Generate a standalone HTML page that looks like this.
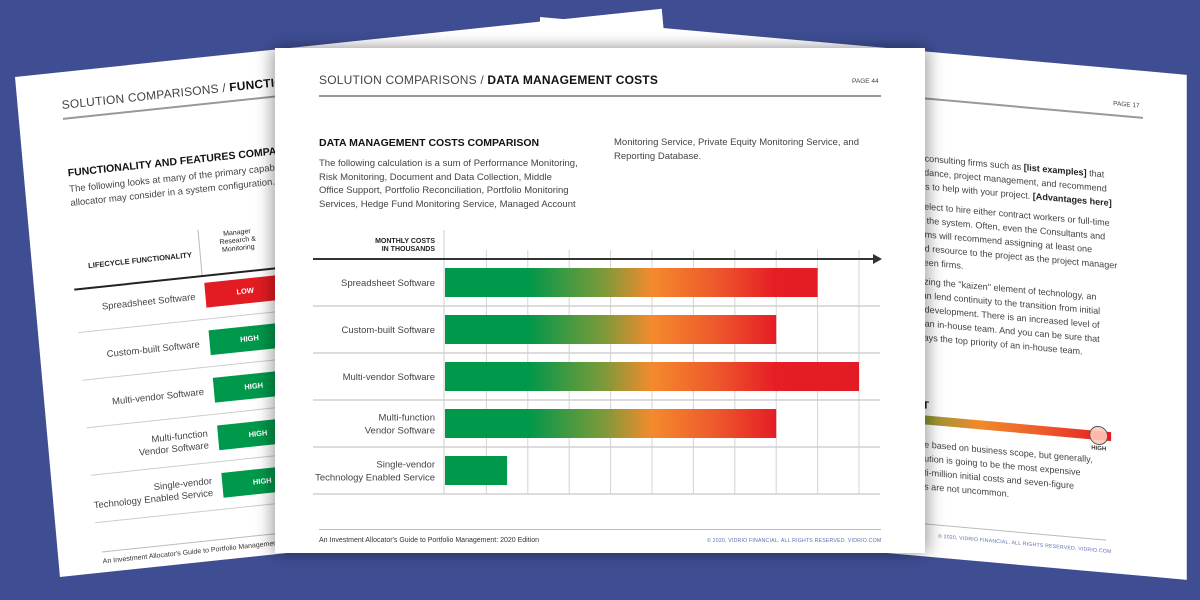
<!DOCTYPE html>
<html><head><meta charset="utf-8">
<style>
*{margin:0;padding:0;box-sizing:border-box}
body{width:1200px;height:600px;overflow:hidden;background:#3f4e93;font-family:"Liberation Sans",sans-serif;color:#333;position:relative}
.page{position:absolute;width:650px;height:505px;background:#fff;transform-origin:0 0;overflow:hidden}
.t{position:absolute;white-space:nowrap}
.hdr{font-size:12px;color:#444;letter-spacing:0.2px}
.hdr b{color:#111}
.pg{font-size:6.5px;color:#444}
.rule{position:absolute;height:1.5px;background:#999}
.body{font-size:9.5px;line-height:13.5px;color:#444}
.rl{position:absolute;white-space:nowrap;font-size:9.1px;color:#444;left:379px}
.rl b{color:#222}
.title{font-size:10.5px;font-weight:bold;color:#111}
.foot{font-size:7px;color:#333}
.copy{font-size:5.2px;color:#5a6fb0;letter-spacing:0.2px}
.cell{position:absolute;width:80px;height:25px;color:#fff;font-size:7.5px;font-weight:bold;display:flex;align-items:center;justify-content:center}
.lbl{position:absolute;font-size:9.5px;color:#444;text-align:right;line-height:12px}
</style></head><body>

<!-- right page -->
<div class="page" style="transform:matrix(0.995,0.089,0,1,540,17);">
  <div class="t pg" style="left:576px;top:32px">PAGE 17</div>
  <div class="rule" style="left:44px;top:46px;width:562px"></div>
  <div>
    <div class="rl" style="top:102px">o consulting firms such as <b>[list examples]</b> that</div>
    <div class="rl" style="top:116px">uidance, project management, and recommend</div>
    <div class="rl" style="top:130px">ors to help with your project. <b>[Advantages here]</b></div>
  </div>
  <div>
    <div class="rl" style="top:150px">s elect to hire either contract workers or full-time</div>
    <div class="rl" style="top:164px">ld the system. Often, even the Consultants and</div>
    <div class="rl" style="top:178px">firms will recommend assigning at least one</div>
    <div class="rl" style="top:192px">ted resource to the project as the project manager</div>
    <div class="rl" style="top:206px">ween firms.</div>
  </div>
  <div>
    <div class="rl" style="top:225px">nizing the "kaizen" element of technology, an</div>
    <div class="rl" style="top:239px">can lend continuity to the transition from initial</div>
    <div class="rl" style="top:253px">g development. There is an increased level of</div>
    <div class="rl" style="top:267px">o an in-house team. And you can be sure that</div>
    <div class="rl" style="top:281px">ways the top priority of an in-house team.</div>
  </div>
  <div class="t title" style="left:296px;top:348px;width:95px;text-align:right">COST</div>
  <div style="position:absolute;left:44px;top:364px;width:530px;height:9px;background:linear-gradient(90deg,#00984a 0%,#00984a 45%,#7a9a38 63%,#f08a2a 75%,#ee5a2c 87%,#e31b23 100%)"></div>
  <div style="position:absolute;left:552px;top:359px;width:19px;height:19px;border:1.5px solid #555;border-radius:50%;background:rgba(255,200,185,0.9)"></div>
  <div class="t" style="left:554px;top:379px;font-size:6px;font-weight:bold;color:#333">HIGH</div>
  <div>
    <div class="rl" style="top:388px">ble based on business scope, but generally,</div>
    <div class="rl" style="top:402px">olution is going to be the most expensive</div>
    <div class="rl" style="top:416px">ulti-million initial costs and seven-figure</div>
    <div class="rl" style="top:430px">sts are not uncommon.</div>
  </div>
  <div class="rule" style="left:44px;top:472px;width:525px;height:1px;background:#bbb"></div>
  <div class="t copy" style="left:400px;top:481px">© 2020, VIDRIO FINANCIAL. ALL RIGHTS RESERVED. VIDRIO.COM</div>
</div>

<!-- left page -->
<div class="page" style="transform:matrix(0.995,-0.105,0.089,0.99,15,77);">
  <div class="t hdr" style="left:44px;top:26px">SOLUTION COMPARISONS / <b>FUNCTIONALITY AND FEATURES</b></div>
  <div class="rule" style="left:44px;top:46px;width:562px"></div>
  <div class="t title" style="left:44px;top:96px">FUNCTIONALITY AND FEATURES COMPARISON</div>
  <div class="t body" style="left:44px;top:112px">The following looks at many of the primary capabilities an<br>allocator may consider in a system configuration.</div>
  <div class="t" style="left:56px;top:192px;font-size:7.5px;font-weight:bold;color:#222">LIFECYCLE FUNCTIONALITY</div>
  <div class="t" style="left:172px;top:176px;font-size:7px;line-height:8px;text-align:center;width:70px;color:#222">Manager<br>Research &amp;<br>Monitoring</div>
  <div style="position:absolute;left:168px;top:172px;width:1px;height:48px;background:#bbb"></div>
  <div class="rule" style="left:40px;top:218px;width:600px;height:2px;background:#222"></div>
  <div class="lbl" style="left:20px;top:234px;width:140px">Spreadsheet Software</div>
  <div class="cell" style="left:170px;top:226px;background:#e31b23">LOW</div>
  <div class="rule" style="left:40px;top:262px;width:600px;height:1px;background:#ccc"></div>
  <div class="lbl" style="left:20px;top:282px;width:140px">Custom-built Software</div>
  <div class="cell" style="left:170px;top:274px;background:#00984a">HIGH</div>
  <div class="rule" style="left:40px;top:310px;width:600px;height:1px;background:#ccc"></div>
  <div class="lbl" style="left:20px;top:330px;width:140px">Multi-vendor Software</div>
  <div class="cell" style="left:170px;top:322px;background:#00984a">HIGH</div>
  <div class="rule" style="left:40px;top:358px;width:600px;height:1px;background:#ccc"></div>
  <div class="lbl" style="left:20px;top:372px;width:140px">Multi-function<br>Vendor Software</div>
  <div class="cell" style="left:170px;top:370px;background:#00984a">HIGH</div>
  <div class="rule" style="left:40px;top:406px;width:600px;height:1px;background:#ccc"></div>
  <div class="lbl" style="left:0px;top:420px;width:160px">Single-vendor<br>Technology Enabled Service</div>
  <div class="cell" style="left:170px;top:418px;background:#00984a">HIGH</div>
  <div class="rule" style="left:40px;top:454px;width:600px;height:1px;background:#ccc"></div>
  <div class="rule" style="left:44px;top:484px;width:560px;height:1px;background:#bbb"></div>
  <div class="t foot" style="left:44px;top:491px">An Investment Allocator's Guide to Portfolio Management: 2020 Edition</div>
</div>

<!-- center page -->
<div class="page" style="left:275px;top:48px;box-shadow:-6px 0 14px rgba(0,0,0,0.25),6px 0 14px rgba(0,0,0,0.25)">
  <div class="t hdr" style="left:44px;top:25px">SOLUTION COMPARISONS / <b>DATA MANAGEMENT COSTS</b></div>
  <div class="t pg" style="left:577px;top:30px">PAGE 44</div>
  <div class="rule" style="left:44px;top:47px;width:562px"></div>
  <div class="t title" style="left:44px;top:89px">DATA MANAGEMENT COSTS COMPARISON</div>
  <div class="t body" style="left:44px;top:109px">The following calculation is a sum of Performance Monitoring,<br>Risk Monitoring, Document and Data Collection, Middle<br>Office Support, Portfolio Reconciliation, Portfolio Monitoring<br>Services, Hedge Fund Monitoring Service, Managed Account</div>
  <div class="t body" style="left:339px;top:88px">Monitoring Service, Private Equity Monitoring Service, and<br>Reporting Database.</div>
  <svg id="chart" width="650" height="505" style="position:absolute;left:0;top:0">
    <defs>
      <linearGradient id="cg" gradientUnits="userSpaceOnUse" x1="170" y1="0" x2="584" y2="0">
        <stop offset="0" stop-color="#00984a"/>
        <stop offset="0.2" stop-color="#00984a"/>
        <stop offset="0.38" stop-color="#7a9a3a"/>
        <stop offset="0.5" stop-color="#f48a2c"/>
        <stop offset="0.65" stop-color="#ee5a2c"/>
        <stop offset="0.8" stop-color="#e51d25"/>
        <stop offset="1" stop-color="#e31b23"/>
      </linearGradient>
    </defs>
  </svg>
  <div class="rule" style="left:44px;top:481px;width:562px;height:1px;background:#bbb"></div>
  <div class="t foot" style="left:44px;top:489px">An Investment Allocator's Guide to Portfolio Management: 2020 Edition</div>
  <div class="t copy" style="left:432px;top:490px">© 2020, VIDRIO FINANCIAL. ALL RIGHTS RESERVED. VIDRIO.COM</div>
</div>

<script>
const categories = ["Spreadsheet Software","Custom-built Software","Multi-vendor Software","Multi-function|Vendor Software","Single-vendor|Technology Enabled Service"];
const costs = [9, 8, 10, 8, 1.5];
const gridTicks = [1,2,3,4,5,6,7,8,9,10];

const NS = "http://www.w3.org/2000/svg";
const svg = document.getElementById("chart");
const X0 = 170, UNIT = 41.4, ROW0 = 211, ROWH = 47, BARH = 29;
const xScale = v => X0 + v * UNIT;
const rowTop = i => ROW0 + i * ROWH;
function mk(tag, attrs){const e=document.createElementNS(NS,tag);for(const k in attrs)e.setAttribute(k,attrs[k]);svg.appendChild(e);return e;}

gridTicks.forEach(t=>{
  const l = mk("line",{x1:xScale(t),x2:xScale(t),y1:202,y2:rowTop(categories.length),stroke:"#d4d4d4","stroke-width":1});
  
  
});
const ya = mk("line",{x1:X0-1,x2:X0-1,y1:182,y2:rowTop(categories.length),stroke:"#ccc","stroke-width":1});



categories.forEach((c,i)=>{
  const sep = mk("line",{x1:38,x2:605,y1:rowTop(i+1),y2:rowTop(i+1),stroke:"#d0d0d0","stroke-width":1.5});
  
  
  const bar = mk("rect",{x:X0,y:rowTop(i)+9,width:xScale(costs[i])-X0,height:BARH,fill:"url(#cg)"});
  
  
  const parts = c.split("|");
  const cy = rowTop(i)+9+BARH/2;
  parts.forEach((p,j)=>{
    const tx = mk("text",{x:160,y:cy+3.5+(j-(parts.length-1)/2)*13,"text-anchor":"end","font-size":"9.5","fill":"#444","font-family":"Liberation Sans, sans-serif"});
    tx.textContent = p;
    
    
  });
});
const ax = mk("line",{x1:38,x2:600,y1:ROW0,y2:ROW0,stroke:"#333","stroke-width":2});


const ah = mk("polygon",{points:"598,206 607,211 598,216",fill:"#333"});


["MONTHLY COSTS","IN THOUSANDS"].forEach((s,j)=>{
  const t = mk("text",{x:160,y:195+j*8,"text-anchor":"end","font-size":"7","font-weight":"bold","fill":"#222","font-family":"Liberation Sans, sans-serif"});
  t.textContent = s;
  
  
});
</script>
</body></html>
